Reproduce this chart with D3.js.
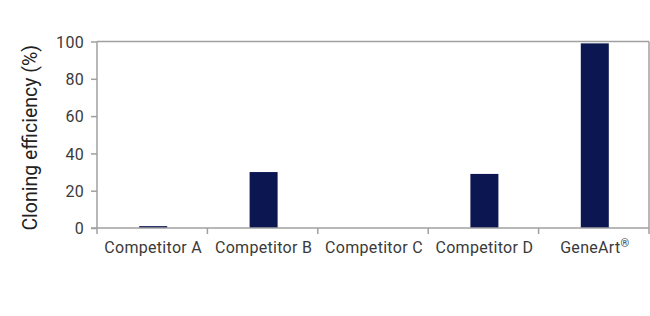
<!DOCTYPE html>
<html>
<head>
<meta charset="utf-8">
<script src="https://cdn.jsdelivr.net/npm/d3@7"></script>
<style>
  html, body { margin: 0; padding: 0; background: #fff; }
  svg text { font-family: Roboto, "Noto Sans", sans-serif; fill: #3a3a3a; }
</style>
</head>
<body>
<svg id="chart" width="650" height="316"></svg>
<script>
// chart data
const categories = ['Competitor A', 'Competitor B', 'Competitor C', 'Competitor D', 'GeneArt®'];
const efficiency = [1, 30, 0, 29, 99];
const yTicks = [0, 20, 40, 60, 80, 100];

const plotLeft = 97, plotRight = 649, plotTop = 41.5, plotBottom = 228;
const axisColor = '#a0a0a0';

const svg = d3.select('#chart');

const x = d3.scaleBand()
  .domain(categories)
  .range([plotLeft, plotRight])
  .paddingInner(0)
  .paddingOuter(0);

const y = d3.scaleLinear()
  .domain([0, 100])
  .range([plotBottom, plotTop]);

// frame on top and right
svg.append('line')
  .attr('x1', plotLeft).attr('x2', plotRight)
  .attr('y1', y(100)).attr('y2', y(100))
  .attr('stroke', axisColor).attr('stroke-width', 1.5);
svg.append('line')
  .attr('x1', plotRight).attr('x2', plotRight)
  .attr('y1', y(100)).attr('y2', plotBottom)
  .attr('stroke', axisColor).attr('stroke-width', 1.5);

// bars
const barW = 28;
svg.selectAll('rect.bar')
  .data(categories)
  .enter()
  .append('rect')
  .attr('class', 'bar')
  .attr('x', (d) => x(d) + x.bandwidth() / 2 - barW / 2 + 1)
  .attr('y', (d, i) => y(efficiency[i]))
  .attr('width', barW)
  .attr('height', (d, i) => plotBottom - y(efficiency[i]))
  .attr('fill', '#0c1650');

// Y axis
const yAxis = svg.append('g')
  .attr('transform', 'translate(' + plotLeft + ',0)')
  .call(d3.axisLeft(y).tickValues(yTicks).tickSize(6).tickPadding(7).tickSizeOuter(0));
yAxis.select('.domain').attr('stroke', axisColor).attr('stroke-width', 1.5)
  .attr('d', 'M0,' + plotTop + 'V' + (plotBottom + 6));
yAxis.selectAll('.tick line').attr('stroke', axisColor).attr('stroke-width', 1.5);
yAxis.selectAll('.tick text')
  .style('font-size', '16px')
  .style('letter-spacing', '0.3px')
  .attr('fill', '#333')
  .attr('dy', '0.35em');

// X axis, ticks at the band boundaries
const xAxis = svg.append('g')
  .attr('transform', 'translate(0,' + plotBottom + ')');
xAxis.append('line')
  .attr('x1', plotLeft - 6).attr('x2', plotRight)
  .attr('stroke', axisColor).attr('stroke-width', 1.5);
xAxis.selectAll('line.tick')
  .data(categories.slice(1))
  .enter()
  .append('line')
  .attr('class', 'tick')
  .attr('x1', (d) => x(d)).attr('x2', (d) => x(d))
  .attr('y1', 0).attr('y2', 6)
  .attr('stroke', axisColor).attr('stroke-width', 1.5);
xAxis.append('line')
  .attr('x1', plotRight).attr('x2', plotRight)
  .attr('y1', 0).attr('y2', 6)
  .attr('stroke', axisColor).attr('stroke-width', 1.5);

const xLabels = xAxis.selectAll('text')
  .data(categories)
  .enter()
  .append('text')
  .attr('x', (d) => x(d) + x.bandwidth() / 2 + 1)
  .attr('y', 25)
  .attr('text-anchor', 'middle')
  .style('font-size', '16px')
  .style('letter-spacing', '0.3px');
// registered sign drawn as a small raised glyph
xLabels.each(function (d) {
  const t = d3.select(this);
  if (d.endsWith('®')) {
    t.append('tspan').text(d.slice(0, -1));
    t.append('tspan').text('®')
      .style('font-size', '11px')
      .attr('dy', '-6');
  } else {
    t.text(d);
  }
});

// Y axis title
svg.append('text')
  .attr('transform', 'translate(37,' + ((plotTop + plotBottom) / 2 + 3) + ') rotate(-90)')
  .attr('text-anchor', 'middle')
  .style('font-size', '19.5px')
  .style('fill', '#222')
  .text('Cloning efficiency (%)');
</script>
</body>
</html>
